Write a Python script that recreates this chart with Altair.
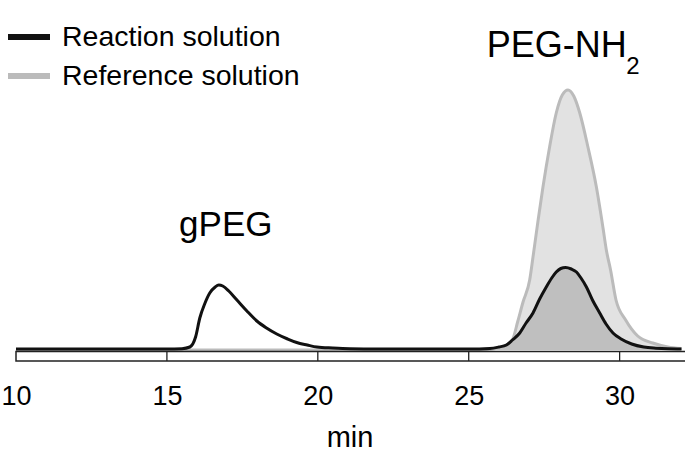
import altair as alt
import pandas as pd

# ---- data (x in min, y in detector units) ----
reaction_x = [10, 12, 14, 15, 15.5, 15.76, 15.95, 16.09, 16.25, 16.42, 16.6, 16.72, 16.85,
              17.05, 17.32, 17.65, 17.98, 18.3, 18.64, 19.0, 19.3, 19.65, 19.97, 20.5, 21.06,
              22, 23, 24, 25, 25.7, 26.0, 26.25, 26.45, 26.69, 26.9, 27.13, 27.35, 27.57,
              27.75, 27.9, 28.05, 28.21, 28.4, 28.57, 28.72, 28.9, 29.1, 29.34, 29.55, 29.78,
              30.05, 30.4, 30.8, 31.2, 31.6, 32.05]
reaction_y = [1, 1, 1, 1, 1.3, 3, 13, 32, 46, 57, 63, 65, 64,
              59, 50, 39, 29, 22, 16, 11, 7.5, 5, 3, 2, 1.3,
              1, 1, 1, 1, 1.5, 3, 5, 10, 17, 27, 37, 51, 63,
              72, 78, 81.5, 82.5, 81, 78, 72, 63, 50, 37, 26, 17,
              11, 6, 3, 1.8, 1.2, 1]

reference_x = [10, 15, 20, 25, 25.5, 26.0, 26.25, 26.46, 26.62, 26.8, 27.02, 27.13, 27.3,
               27.46, 27.68, 27.9, 28.1, 28.29, 28.48, 28.68, 28.95, 29.23, 29.45, 29.56,
               29.7, 29.88, 30.2, 30.6, 31.1, 31.6, 32.05]
reference_y = [0, 0, 0, 0, 0.3, 2, 5, 11, 28, 48, 70, 93, 130,
               163, 203, 237, 255, 260, 254, 237, 203, 163, 122, 100,
               80, 50, 30, 14, 7, 3, 1.5]

series_names = ["Reaction solution", "Reference solution"]
series_colors = ["#111111", "#bbbbbb"]

tick_values = [10, 15, 20, 25, 30]
inner_ticks = [15, 20, 25, 30]

ann_text = ["gPEG", "PEG-NH"]
ann_x = [16.95, 25.6]
ann_y = [114, 293]
sub_text = ["2"]
sub_x = [30.22]
sub_y = [276]

FONT = "Liberation Sans"

reaction = pd.DataFrame({"x": reaction_x, "y": reaction_y, "series": series_names[0]})
reference = pd.DataFrame({"x": reference_x, "y": reference_y, "series": series_names[1]})
ann = pd.DataFrame({"t": ann_text, "x": ann_x, "y": ann_y})
sub = pd.DataFrame({"t": sub_text, "x": sub_x, "y": sub_y})
ticks = pd.DataFrame({"x": inner_ticks})
box = pd.DataFrame({"x": [10], "x2": [32.25]})

xscale = alt.Scale(domain=[10, 32.1], nice=False, zero=False)
yscale = alt.Scale(domain=[-12, 271], nice=False, zero=False)

xaxis = alt.Axis(values=tick_values, domain=False, ticks=False, grid=False, labelFlush=False,
                 labelFontSize=27, labelFont=FONT, labelColor="black", labelPadding=21,
                 title="min", titleFontSize=29, titleFont=FONT, titleFontWeight="normal",
                 titleColor="black", titlePadding=14)

X = alt.X("x:Q", scale=xscale, axis=xaxis)
Y = alt.Y("y:Q", scale=yscale, axis=None)

color = alt.Color("series:N",
                  scale=alt.Scale(domain=series_names, range=series_colors),
                  legend=alt.Legend(orient="none", legendX=-11, legendY=-66, title=None,
                                    symbolType="stroke", symbolSize=1764, symbolStrokeWidth=6,
                                    labelFontSize=28.5, labelFont=FONT, labelColor="black",
                                    labelLimit=0, rowPadding=-10, labelOffset=9, padding=0))

ref_area = alt.Chart(reference).mark_area(color="#e2e2e2", interpolate="monotone").encode(
    x=X, y=Y, y2=alt.datum(0))
ref_line = alt.Chart(reference).mark_line(strokeWidth=3, interpolate="monotone").encode(
    x=X, y=Y, color=color)
rx_area = alt.Chart(reaction).transform_filter("datum.x >= 25").mark_area(
    color="#bfbfbf", interpolate="monotone").encode(x=X, y=Y, y2=alt.datum(0))
rx_line = alt.Chart(reaction).mark_line(strokeWidth=3, interpolate="monotone").encode(
    x=X, y=Y, color=color)

box_rect = alt.Chart(box).mark_rect(filled=False, stroke="#222222", strokeWidth=1.5).encode(
    x=alt.X("x:Q", scale=xscale), x2="x2:Q", y=alt.datum(-11), y2=alt.datum(-1.5))
tick_rules = alt.Chart(ticks).mark_rule(color="#222222", strokeWidth=1.3).encode(
    x=alt.X("x:Q", scale=xscale), y=alt.datum(-11), y2=alt.datum(-1.5))

ann2 = alt.Chart(ann).transform_filter("datum.t == 'PEG-NH'").mark_text(
    font=FONT, fontSize=36, color="black", align="left", baseline="alphabetic").encode(
    x=alt.X("x:Q", scale=xscale), y=alt.Y("y:Q", scale=yscale), text="t:N")
ann1 = alt.Chart(ann).transform_filter("datum.t == 'gPEG'").mark_text(
    font=FONT, fontSize=35, color="black", align="center", baseline="alphabetic").encode(
    x=alt.X("x:Q", scale=xscale), y=alt.Y("y:Q", scale=yscale), text="t:N")
sub_mark = alt.Chart(sub).mark_text(font=FONT, fontSize=24, color="black", align="left",
                                    baseline="alphabetic").encode(
    x=alt.X("x:Q", scale=xscale), y=alt.Y("y:Q", scale=yscale), text="t:N")

chart = alt.layer(ref_area, ref_line, rx_area, rx_line, box_rect, tick_rules, ann1, ann2, sub_mark).properties(
    width=667, height=283,
    autosize=alt.AutoSizeParams(type="none"),
    padding={"left": 16, "top": 79, "right": 2, "bottom": 96},
    background="white",
).configure_view(stroke=None)

chart.save("out.html", embed_options={"renderer": "svg", "actions": False})
